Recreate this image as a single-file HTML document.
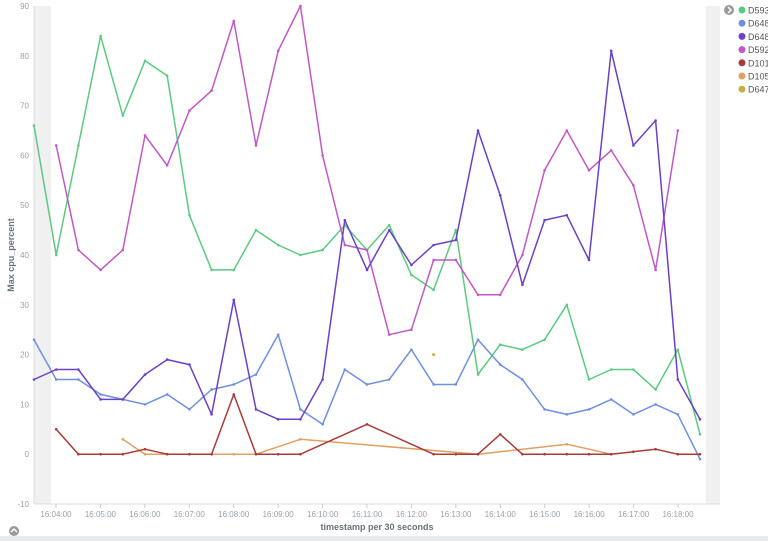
<!DOCTYPE html>
<html><head><meta charset="utf-8"><style>
html,body{margin:0;padding:0;background:#fff;width:768px;height:541px;overflow:hidden;font-family:"Liberation Sans",sans-serif}
</style></head><body>
<svg id="c" width="768" height="541" xmlns="http://www.w3.org/2000/svg" style="position:absolute;left:0;top:0">
<rect x="34" y="6" width="17" height="498" fill="#f0f0f0"/>
<rect x="706" y="6" width="14" height="498" fill="#f0f0f0"/>
<line x1="34" y1="6" x2="34" y2="504" stroke="#ddd"/>
<line x1="34" y1="504" x2="720" y2="504" stroke="#ddd"/>
<rect x="0" y="536" width="768" height="5" fill="#e8ebee"/>
<text transform="translate(14,255) rotate(-90)" text-anchor="middle" font-size="9" font-weight="bold" fill="#6a717d">Max cpu_percent</text>
<text x="377" y="530" text-anchor="middle" font-size="9" font-weight="bold" fill="#6a717d">timestamp per 30 seconds</text>
<circle cx="14" cy="531" r="5" fill="#999"/><path d="M11,532 L14,529 L17,532" stroke="#fff" stroke-width="1.5" fill="none"/>
<circle cx="729" cy="10" r="5" fill="#999"/><path d="M728,7 L731,10 L728,13" stroke="#fff" stroke-width="1.5" fill="none"/>
<g id="g"></g>
</svg>
<script>
var g=document.getElementById('g'),s='';
function Y(v){return 6+(90-v)*4.98}
function X(i){return 34+22.2*i}
for(var v=-10;v<=90;v+=10){s+='<text x="29" y="'+(Y(v)+3)+'" text-anchor="end" font-size="8" fill="#9aa0a8">'+v+'</text>';}
for(var m=0;m<=14;m++){var x=56+m*44.43;s+='<line x1="'+x+'" y1="504" x2="'+x+'" y2="508" stroke="#ccc"/><text x="'+x+'" y="517" text-anchor="middle" font-size="8" fill="#9aa0a8">16:'+(m+4<10?'0':'')+(m+4)+':00</text>';}
var N=null;
var series=[
['#5cc982',[66,40,62,84,68,79,76,48,37,37,45,42,40,41,46,41,46,36,33,45,16,22,21,23,30,15,17,17,13,21,4]],
['#c059c4',[N,62,41,37,41,64,58,69,73,87,62,81,90,60,42,41,24,25,39,39,32,32,40,57,65,57,61,54,37,65]],
['#6f8fe0',[23,15,15,12,11,10,12,9,13,14,16,24,9,6,17,14,15,21,14,14,23,18,15,9,8,9,11,8,10,8,-1]],
['#6a41c8',[15,17,17,11,11,16,19,18,8,31,9,7,7,15,47,37,45,38,42,43,65,52,34,47,48,39,81,62,67,15,7]],
['#e0a060',[N,N,N,N,3,0,0,0,0,0,0,N,3,N,N,N,N,N,N,N,0,N,N,N,2,N,0]],
['#a83a3a',[N,5,0,0,0,1,0,0,0,12,0,0,0,N,N,6,N,N,0,0,0,4,0,0,0,0,0,0.5,1,0,0]]
];
series.forEach(function(sr){var pts=[];sr[1].forEach(function(v,i){if(v!==null&&v!==undefined)pts.push([X(i),Y(v)]);});
s+='<polyline fill="none" stroke="'+sr[0]+'" stroke-width="1.5" stroke-linejoin="round" points="'+pts.map(function(p){return p[0].toFixed(1)+','+p[1].toFixed(1)}).join(' ')+'"/>';
pts.forEach(function(p){s+='<circle cx="'+p[0]+'" cy="'+p[1]+'" r="1.3" fill="'+sr[0]+'"/>';});});
s+='<circle cx="'+X(18)+'" cy="'+Y(20)+'" r="1.5" fill="#c8b040"/>';
var leg=[['#5cc982','D5933'],['#6f8fe0','D6484'],['#6a41c8','D6483'],['#c059c4','D5928'],['#a83a3a','D1010'],['#e0a060','D1052'],['#c8b040','D6471']];
leg.forEach(function(l,i){var y=10+i*13.2;s+='<circle cx="742" cy="'+y+'" r="3.5" fill="'+l[0]+'"/><text x="748" y="'+(y+3.5)+'" font-size="9" fill="#555">'+l[1]+'</text>';});
g.innerHTML=s;
</script>
</body></html>
